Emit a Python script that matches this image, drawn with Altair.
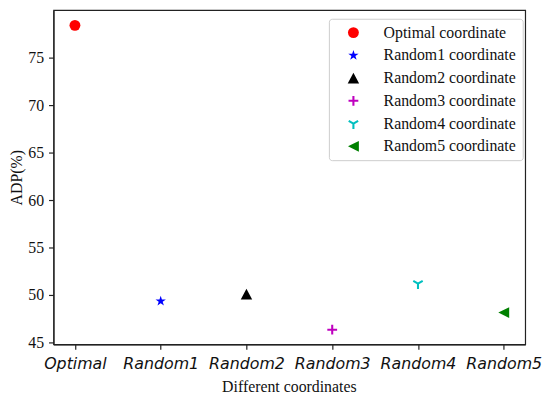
import math

import altair as alt
import pandas as pd

# Values
labels = ["Optimal", "Random1", "Random2", "Random3", "Random4", "Random5"]
adp = [78.4, 49.35, 50.1, 46.35, 51.2, 48.15]
series = [f"{name} coordinate" for name in labels]
colors = ["#ff0000", "#0000ff", "#000000", "#bf00bf", "#00bfbf", "#008000"]
y_ticks = [45, 50, 55, 60, 65, 70, 75]


# --- marker shapes (matplotlib look-alikes, unit box -1..1) ---
def poly(points):
    return "M" + "L".join(f"{x:.3f},{y:.3f}" for x, y in points) + "Z"


star = poly([
    ((1 if k % 2 == 0 else 0.382) * math.cos(math.radians(-90 + 36 * k)),
     (1 if k % 2 == 0 else 0.382) * math.sin(math.radians(-90 + 36 * k)))
    for k in range(10)
])

t = 0.19
plus = poly([(-0.9, -t), (-t, -t), (-t, -0.9), (t, -0.9), (t, -t), (0.9, -t),
             (0.9, t), (t, t), (t, 0.9), (-t, 0.9), (-t, t), (-0.9, t)])


def arm(dx, dy):
    nx, ny = -dy, dx
    b = -0.5 * t
    return poly([(b * dx - nx * t, b * dy - ny * t), (dx - nx * t, dy - ny * t),
                 (dx + nx * t, dy + ny * t), (b * dx + nx * t, b * dy + ny * t)])


tri_down = arm(0, 1) + arm(-0.866, -0.5) + arm(0.866, -0.5)
tri_up = "M0,-1L-1.05,1L1.05,1Z"
tri_left = "M-1,0L1,-1L1,1Z"

shapes = ["circle", star, tri_up, plus, tri_down, tri_left]

df = pd.DataFrame({"label": labels, "adp": adp, "series": series})

chart = (
    alt.Chart(df)
    .mark_point(filled=True, opacity=1, size=121, strokeWidth=0)
    .encode(
        x=alt.X(
            "label:N",
            sort=labels,
            scale=alt.Scale(type="point", padding=0.25),
            axis=alt.Axis(
                title="Different coordinates",
                labelAngle=0,
                labelFont="DejaVu Sans",
                labelFontStyle="italic",
                labelFontSize=16,
                labelPadding=6,
                titleX=238,
                titleY=48,
                titleBaseline="alphabetic",
                titleAlign="center",
            ),
        ),
        y=alt.Y(
            "adp:Q",
            scale=alt.Scale(domain=[44.8, 80.0], nice=False, zero=False),
            axis=alt.Axis(
                title="ADP(%)",
                values=y_ticks,
                labelFont="Liberation Serif",
                labelFontSize=16,
                labelPadding=5,
                titleAngle=-90,
                titleX=-32,
                titleY=169,
                titleBaseline="alphabetic",
                titleAlign="center",
            ),
        ),
        color=alt.Color(
            "series:N",
            scale=alt.Scale(domain=series, range=colors),
            legend=alt.Legend(
                title=None,
                orient="none",
                legendX=278.5,
                legendY=8.7,
            ),
        ),
        shape=alt.Shape(
            "series:N",
            scale=alt.Scale(domain=series, range=shapes),
        ),
    )
    .properties(
        width=477,
        height=338,
        autosize=alt.AutoSizeParams(type="none"),
        padding={"left": 46, "top": 0, "right": 17, "bottom": 50},
    )
    .configure_view(stroke="#222222", strokeWidth=1.2)
    .configure_axis(
        grid=False,
        domainColor="#222222",
        domainWidth=1.2,
        tickColor="#222222",
        tickWidth=1.2,
        tickSize=5,
        labelColor="#111111",
        titleColor="#111111",
        titleFont="Liberation Serif",
        titleFontSize=16,
        titleFontWeight="normal",
    )
    .configure_legend(
        labelFont="Liberation Serif",
        labelFontSize=16,
        labelColor="#111111",
        labelLimit=300,
        symbolSize=121,
        symbolStrokeWidth=0,
        symbolOffset=10.8,
        labelOffset=22.5,
        rowPadding=7,
        padding=6,
        fillColor="white",
        strokeColor="#cccccc",
        cornerRadius=3,
    )
)

chart.save("out.html", embed_options={"renderer": "svg", "actions": False})
